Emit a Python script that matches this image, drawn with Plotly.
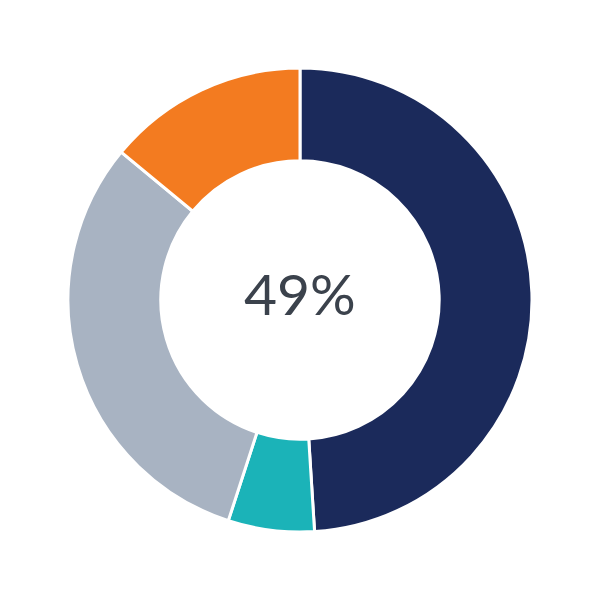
import plotly.graph_objects as go

labels = ["Navy", "Teal", "Gray", "Orange"]
values = [49, 6, 31, 14]
colors = ["#1b2a5b", "#1bb3b8", "#a8b3c2", "#f37b20"]
center_text = "49%"

fig = go.Figure(go.Pie(
    labels=labels, values=values, hole=0.6, sort=False,
    direction="clockwise", rotation=0,
    marker=dict(colors=colors, line=dict(color="white", width=3)),
    textinfo="none", hoverinfo="label+percent",
    domain=dict(x=[60/600, 524/600], y=[76/600, 540/600]),
))
fig.add_annotation(text=center_text, x=292/600, y=315/600, xref="paper", yref="paper",
                   showarrow=False, font=dict(family="Lato", size=57, color="#3b424c"))
fig.update_layout(width=600, height=600, margin=dict(l=0, r=0, t=0, b=0),
                  showlegend=False, paper_bgcolor="white", plot_bgcolor="white")
fig.write_html("out.html")
